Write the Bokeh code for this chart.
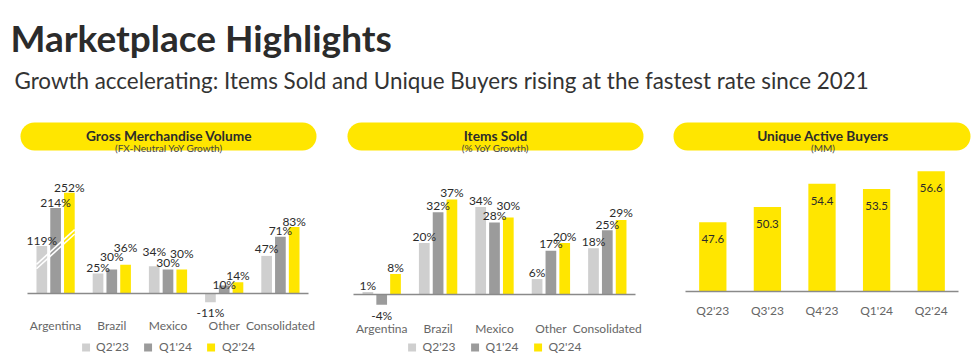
from bokeh.plotting import figure
from bokeh.models import ColumnDataSource, FactorRange, Range1d, Legend, LegendItem, Spacer
from bokeh.layouts import row, column
from bokeh.transform import dodge
from bokeh.core.properties import value
from bokeh.embed import file_html
from bokeh.resources import INLINE

# ---------------- data ----------------
page_title = "Marketplace Highlights"
page_subtitle = ("Growth accelerating: Items Sold and Unique Buyers rising "
                 "at the fastest rate since 2021")

panel_titles = ["Gross Merchandise Volume", "Items Sold", "Unique Active Buyers"]
panel_subtitles = ["(FX-Neutral YoY Growth)", "(% YoY Growth)", "(MM)"]

regions = ["Argentina", "Brazil", "Mexico", "Other", "Consolidated"]
series = ["Q2'23", "Q1'24", "Q2'24"]

gmv_q223 = [119, 25, 34, -11, 47]
gmv_q124 = [214, 30, 30, 10, 71]
gmv_q224 = [252, 36, 30, 14, 83]

items_q223 = [1, 20, 34, 6, 18]
items_q124 = [-4, 32, 28, 17, 25]
items_q224 = [8, 37, 30, 20, 29]

uab_quarters = ["Q2'23", "Q3'23", "Q4'23", "Q1'24", "Q2'24"]
uab_values = [47.6, 50.3, 54.4, 53.5, 56.6]

# broken-axis compression used for Argentina GMV bars
gmv_axis_break = {"Argentina": 0.5}

# ---------------- style ----------------
FONT = value("Lato")
YELLOW = "#FFE600"
LIGHT = "#CFCFCF"
DARK = "#9B9B9B"
TXT = "#2b2b2b"
GRAY_TXT = "#666666"
AXIS = "#8a8a8a"
SERIES_COLORS = [LIGHT, DARK, YELLOW]
SERIES_OFFSETS = [-0.245, 0.0, 0.245]
BAR_W = 0.19

HDR_H = 160
PANEL_H = 199
LABEL_SIZE = "12px"
CAP = 9

# label gaps from bar ends (px), to stagger crowded labels
gmv_gaps = {"Q2'23": [5, 6, 15, 1, 7], "Q1'24": [5, 13, 7, 1, 6], "Q2'24": [5, 17, 16, 7, 6]}
items_gaps = {"Q2'23": [6, 7, 7, 7, 7], "Q1'24": [2, 7, 7, 7, 6], "Q2'24": [6, 7, 12, 7, 7]}


def base_fig(width, x_range, y_range, height=PANEL_H):
    p = figure(width=width, height=height, x_range=x_range, y_range=y_range,
               toolbar_location=None, output_backend="svg",
               x_axis_location=None, y_axis_location=None, min_border=0)
    p.outline_line_color = None
    p.background_fill_color = "white"
    p.xgrid.visible = False
    p.ygrid.visible = False
    return p


def grouped_panel(width, pad_px, base_px, px_per_unit, vals_by_series, disp_by_series,
                  gaps_by_series, cat_dy, after_bars=None):
    unit_px = (width - 2 * pad_px) / len(regions)
    xr = FactorRange(*regions, range_padding=pad_px / unit_px, range_padding_units="absolute")
    yr = Range1d(-(PANEL_H - base_px) / px_per_unit, base_px / px_per_unit)
    p = base_fig(width, xr, yr)
    items = []
    sources = []
    for s, off, col in zip(series, SERIES_OFFSETS, SERIES_COLORS):
        vals = vals_by_series[s]
        disp = disp_by_series[s]
        gaps = gaps_by_series[s]
        yoff = [-g if v >= 0 else g + CAP for v, g in zip(vals, gaps)]
        src = ColumnDataSource(dict(cat=regions, top=disp,
                                    label=[f"{v}%" for v in vals], yoff=yoff))
        r = p.vbar(x=dodge("cat", off, range=xr), top="top", bottom=0, width=BAR_W,
                   fill_color=col, line_color=None, source=src)
        items.append(LegendItem(label=s, renderers=[r]))
        sources.append((off, src))
    p.segment(x0=[0], y0=[0], x1=[len(regions)], y1=[0], line_color=AXIS, line_width=1.6)
    if after_bars is not None:
        after_bars(p, xr)
    for off, src in sources:
        p.text(x=dodge("cat", off, range=xr), y="top", text="label", y_offset="yoff",
               source=src, text_font=FONT, text_font_size=LABEL_SIZE, text_color=TXT,
               text_align="center", text_baseline="alphabetic")
    p.text(x=regions, y=[0] * len(regions), text=regions, y_offset=cat_dy,
           text_font=FONT, text_font_size=LABEL_SIZE, text_color=GRAY_TXT,
           text_align="center", text_baseline="alphabetic")
    leg = Legend(items=items, orientation="horizontal", location="bottom_center",
                 margin=5, padding=0, spacing=14, label_standoff=6,
                 glyph_width=10, glyph_height=10, label_height=10,
                 label_text_font="Lato", label_text_font_size=LABEL_SIZE,
                 label_text_color=GRAY_TXT, background_fill_alpha=0,
                 border_line_alpha=0)
    p.add_layout(leg)
    return p


# ---------------- header ----------------
def hy(py):
    return -py


hdr = base_fig(972, Range1d(0, 972), Range1d(-HDR_H, 0), height=HDR_H)
hdr.text(x=[10], y=[hy(37)], text=[page_title], text_font=FONT,
         text_font_style="bold", text_font_size="37px", text_color=TXT,
         text_baseline="alphabetic")
hdr.text(x=[14], y=[hy(80)], text=[page_subtitle], text_font=FONT,
         text_font_size="22.4px", text_color="#333333", text_baseline="alphabetic")
pill_left = [20, 347, 673]
pill_right = [316, 643, 970]
hdr.quad(left=pill_left, right=pill_right, top=[hy(122)] * 3, bottom=[hy(150)] * 3,
         fill_color=YELLOW, line_color=None, border_radius=14)
pill_cx = [168.5, 495, 822.5]
hdr.text(x=pill_cx, y=[hy(135)] * 3, text=panel_titles, text_font=FONT,
         text_font_style="bold", text_font_size="13.7px", text_color=TXT,
         text_align="center", text_baseline="alphabetic")
hdr.text(x=pill_cx, y=[hy(147.5)] * 3, text=panel_subtitles, text_font=FONT,
         text_font_size="10px", text_color="#444444",
         text_align="center", text_baseline="alphabetic")

# ---------------- panel 1: GMV ----------------
gmv_vals = {"Q2'23": gmv_q223, "Q1'24": gmv_q124, "Q2'24": gmv_q224}
gmv_disp = {s: [v * gmv_axis_break.get(c, 1.0) for c, v in zip(regions, vs)]
            for s, vs in gmv_vals.items()}


def break_marks(p, xr):
    # white double slash across the compressed Argentina bars
    edge = SERIES_OFFSETS[2] + BAR_W / 2
    arg = regions.index("Argentina")
    y_lo = gmv_disp["Q2'23"][arg] * 0.52
    y_hi = gmv_disp["Q2'24"][arg] * 0.59
    brk = ColumnDataSource(dict(cat=["Argentina", "Argentina"], y0=[y_lo, y_lo + 5.5],
                                y1=[y_hi, y_hi + 5.5]))
    p.segment(x0=dodge("cat", -edge, range=xr), y0="y0", x1=dodge("cat", edge, range=xr),
              y1="y1", source=brk, line_color="white", line_width=1.6)


p1 = grouped_panel(335, 27, 133, 0.8, gmv_vals, gmv_disp, gmv_gaps, 32, break_marks)

# ---------------- panel 2: Items sold ----------------
items_vals = {"Q2'23": items_q223, "Q1'24": items_q124, "Q2'24": items_q224}
p2 = grouped_panel(318, 18, 134, 2.57, items_vals, items_vals, items_gaps, 33.5)

# ---------------- panel 3: Unique active buyers ----------------
uab_floor = 35.4
p3_w, p3_pad, p3_base, p3_k = 299, 13, 131, 5.667
unit3 = (p3_w - 2 * p3_pad) / len(uab_quarters)
xr3 = FactorRange(*uab_quarters, range_padding=p3_pad / unit3, range_padding_units="absolute")
yr3 = Range1d(uab_floor - (PANEL_H - p3_base) / p3_k, uab_floor + p3_base / p3_k)
p3 = base_fig(p3_w, xr3, yr3)
src3 = ColumnDataSource(dict(q=uab_quarters, v=uab_values,
                             label=[f"{v:.1f}" for v in uab_values]))
p3.vbar(x="q", top="v", bottom=uab_floor, width=0.5, fill_color=YELLOW, line_color=None,
        source=src3)
p3.segment(x0=[0], y0=[uab_floor], x1=[len(uab_quarters)], y1=[uab_floor],
           line_color=AXIS, line_width=1.6)
p3.text(x="q", y="v", text="label", y_offset=17, source=src3, text_font=FONT,
        text_font_size="11.5px", text_color=TXT, text_align="center",
        text_baseline="alphabetic")
p3.text(x=uab_quarters, y=[uab_floor] * len(uab_quarters), text=uab_quarters, y_offset=19,
        text_font=FONT, text_font_size=LABEL_SIZE, text_color=GRAY_TXT,
        text_align="center", text_baseline="alphabetic")

layout = column(hdr, row(p1, p2, Spacer(width=19, height=PANEL_H), p3))

open("out.html", "w").write(file_html(layout, INLINE, "Marketplace Highlights"))
